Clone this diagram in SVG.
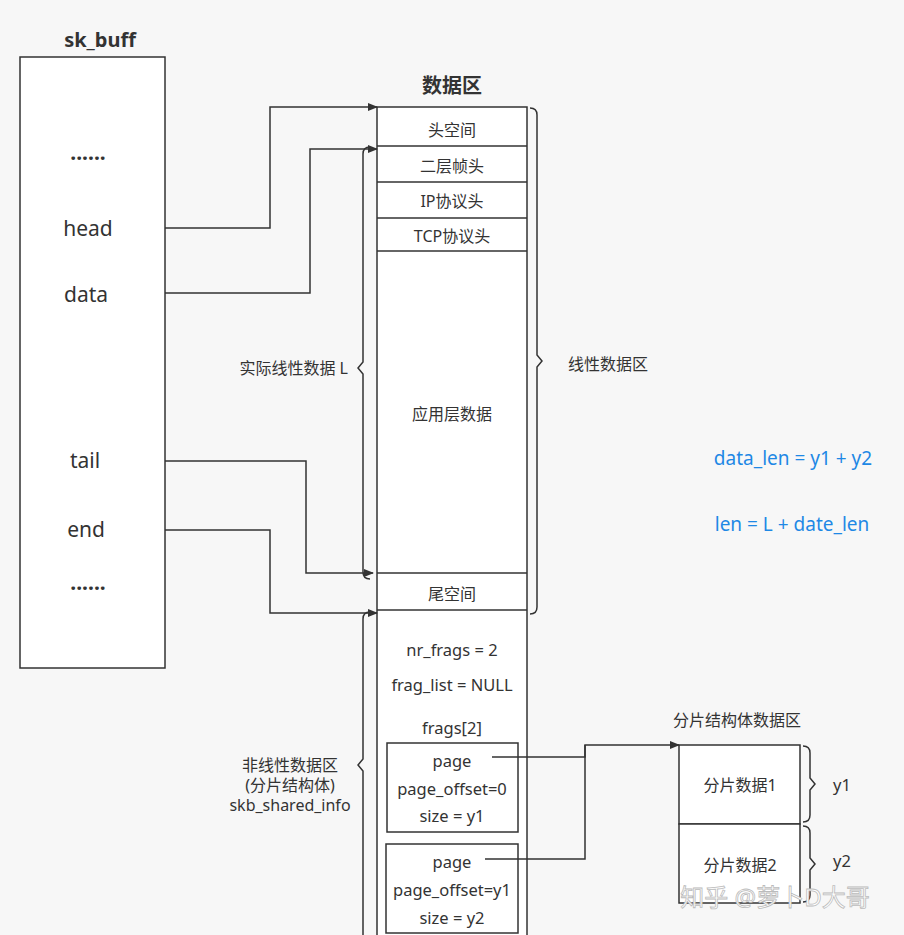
<svg xmlns="http://www.w3.org/2000/svg" width="904" height="935" viewBox="0 0 904 935">
<defs>
<marker id="ar" markerWidth="10" markerHeight="8" refX="9" refY="4" orient="auto" markerUnits="userSpaceOnUse"><path d="M0,0 L10,4 L0,8 z" fill="#333"/></marker>
<style>
text{font-family:"Noto Sans","Noto Sans CJK SC",sans-serif;fill:#333;text-anchor:middle}
.b{fill:#fff;stroke:#333;stroke-width:1.5}
.c{fill:none;stroke:#333;stroke-width:1.5}
.s{font-size:16px}
.m{font-size:16.5px}
.l{font-size:21px}
.blue{fill:#1e88e5;font-size:19px}
</style>
</defs>
<rect width="904" height="935" fill="#f7f7f7"/>
<g id="skbuff">
<text x="100" y="47" style="font-size:20px;font-weight:bold">sk_buff</text>
<rect class="b" x="20" y="57" width="145" height="611"/>
<text class="l" x="88" y="160" style="font-weight:bold">......</text>
<text class="l" x="88" y="236">head</text>
<text class="l" x="86" y="302">data</text>
<text class="l" x="85" y="468">tail</text>
<text class="l" x="86" y="537">end</text>
<text class="l" x="88" y="590" style="font-weight:bold">......</text>
</g>
<g id="dataarea">
<text x="452" y="93" style="font-size:20px;font-weight:bold">数据区</text>
<rect class="b" x="377" y="107" width="150" height="840"/>
<line class="c" x1="377" y1="146" x2="527" y2="146"/>
<line class="c" x1="377" y1="182" x2="527" y2="182"/>
<line class="c" x1="377" y1="218" x2="527" y2="218"/>
<line class="c" x1="377" y1="251" x2="527" y2="251"/>
<line class="c" x1="377" y1="573" x2="527" y2="573"/>
<line class="c" x1="377" y1="610" x2="527" y2="610"/>
<text class="s" x="452" y="136">头空间</text>
<text class="s" x="452" y="172">二层帧头</text>
<text class="s" x="452" y="207">IP协议头</text>
<text class="s" x="452" y="242">TCP协议头</text>
<text class="s" x="452" y="420">应用层数据</text>
<text class="s" x="452" y="600">尾空间</text>
<text class="m" x="452" y="656">nr_frags = 2</text>
<text class="m" x="452" y="691">frag_list = NULL</text>
<text class="m" x="452" y="734">frags[2]</text>
</g>
<g id="frag1">
<rect class="b" x="387" y="743" width="131" height="89"/>
<text class="m" x="452" y="767">page</text>
<text class="m" x="452" y="795">page_offset=0</text>
<text class="m" x="452" y="822">size = y1</text>
</g>
<g id="frag2">
<rect class="b" x="386" y="844" width="132" height="89"/>
<text class="m" x="452" y="868">page</text>
<text class="m" x="452" y="896">page_offset=y1</text>
<text class="m" x="452" y="924">size = y2</text>
</g>
<g id="fragdata">
<text class="s" x="737" y="726">分片结构体数据区</text>
<rect class="b" x="679" y="745" width="121" height="79"/>
<rect class="b" x="679" y="824" width="121" height="79"/>
<text class="s" x="740" y="791">分片数据1</text>
<text class="s" x="740" y="871">分片数据2</text>
<path class="c" d="M803,746 q7,0 7,7 v25 l5,6 l-5,6 v25 q0,7 -7,7"/>
<path class="c" d="M803,826 q7,0 7,7 v25 l5,6 l-5,6 v25 q0,7 -7,7"/>
<text class="m" x="842" y="791">y1</text>
<text class="m" x="842" y="867">y2</text>
</g>
<g id="braces">
<path class="c" d="M530,108 q7,0 7,7 v240 l5,6 l-5,6 v240 q0,7 -7,7"/>
<text class="s" x="608" y="370">线性数据区</text>
<path class="c" d="M370,147 q-7,0 -7,7 v208 l-5,6 l5,6 v198 q0,7 7,7"/>
<text class="s" x="348" y="374" style="text-anchor:end">实际线性数据 L</text>
<path class="c" d="M370,612 q-7,0 -7,7 v140 l-5,6 l5,6 v170"/>
<text class="s" x="290" y="771">非线性数据区</text>
<text class="s" x="290" y="791">(分片结构体)</text>
<text class="s" x="290" y="811">skb_shared_info</text>
</g>
<g id="connectors">
<path class="c" marker-end="url(#ar)" d="M165,228 H270 V107 H377"/>
<path class="c" marker-end="url(#ar)" d="M165,293 H310 V149 H377"/>
<path class="c" marker-end="url(#ar)" d="M165,461 H306 V573 H373"/>
<path class="c" marker-end="url(#ar)" d="M165,530 H270 V613 H377"/>
<path class="c" marker-end="url(#ar)" d="M492,757 H585 V745 H679"/>
<path class="c" d="M485,859 H585 V745"/>
</g>
<g id="formulas">
<text class="blue" x="793" y="465">data_len = y1 + y2</text>
<text class="blue" x="792" y="531">len = L + date_len</text>
</g>
<text x="775" y="906" style="font-size:24px;fill:#fff;stroke:#bbb;stroke-width:0.8">知乎 @萝卜D大哥</text>
</svg>
